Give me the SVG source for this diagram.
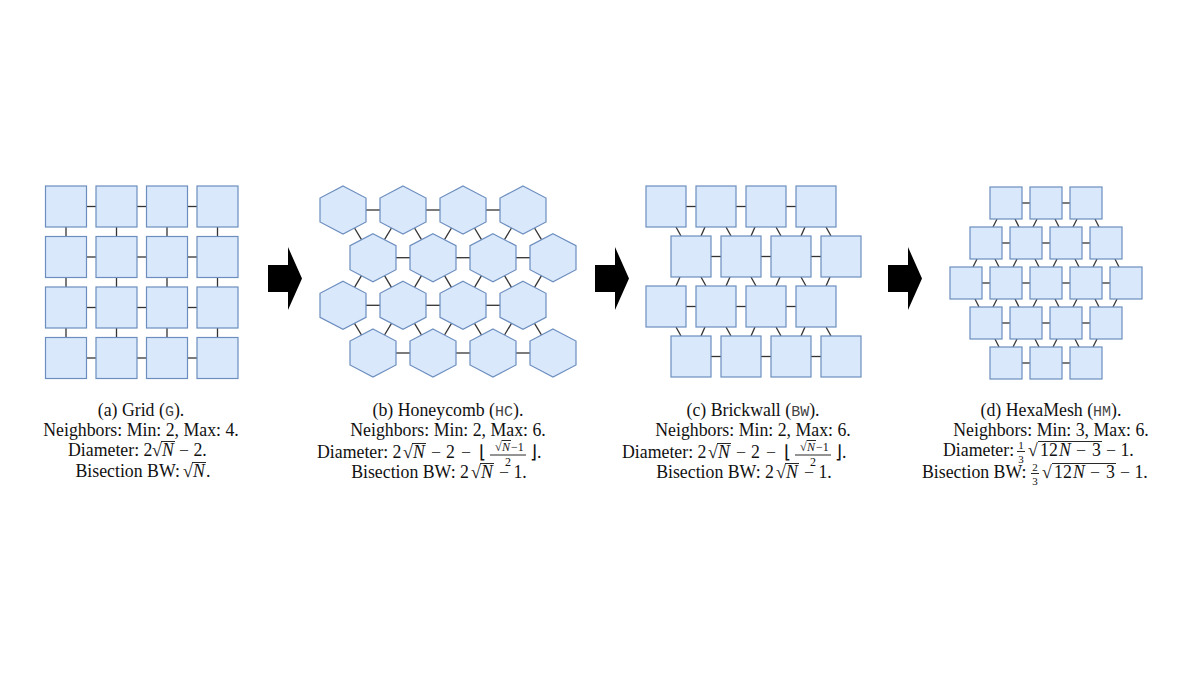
<svg xmlns="http://www.w3.org/2000/svg" xmlns:xlink="http://www.w3.org/1999/xlink" width="1200" height="675" viewBox="0 0 1200 675">
<style>
.n{fill:#dae8fc;stroke:#6c8ebf;stroke-width:1.2}
.c line{stroke:#333;stroke-width:1.3}
.t{font-family:"Liberation Serif",serif;font-size:17.8px;fill:#111}
.m{font-family:"Liberation Mono",monospace;font-size:15px;fill:#444}
.i{font-style:italic}
.s{font-size:12px}
.xs{font-size:11px}
.bar{stroke:#111;stroke-width:0.9}
.arr{fill:#000}
</style>
<defs>
<polygon id="hex" class="n" points="0,-24 23,-12 23,12 0,24 -23,12 -23,-12"/>
<rect id="sq" class="n" width="41" height="41"/>
<rect id="bq" class="n" width="40" height="41"/>
<rect id="hq" class="n" width="32" height="32"/>
</defs>
<rect width="1200" height="675" fill="#fff"/>

<!-- Grid -->
<g id="grid-connectors" class="c">
<line x1="86.5" y1="206.5" x2="96" y2="206.5"/><line x1="137" y1="206.5" x2="146.5" y2="206.5"/><line x1="187.5" y1="206.5" x2="197" y2="206.5"/>
<line x1="86.5" y1="257" x2="96" y2="257"/><line x1="137" y1="257" x2="146.5" y2="257"/><line x1="187.5" y1="257" x2="197" y2="257"/>
<line x1="86.5" y1="307.5" x2="96" y2="307.5"/><line x1="137" y1="307.5" x2="146.5" y2="307.5"/><line x1="187.5" y1="307.5" x2="197" y2="307.5"/>
<line x1="86.5" y1="358" x2="96" y2="358"/><line x1="137" y1="358" x2="146.5" y2="358"/><line x1="187.5" y1="358" x2="197" y2="358"/>
<line x1="66" y1="227" x2="66" y2="236.5"/><line x1="116.5" y1="227" x2="116.5" y2="236.5"/><line x1="167" y1="227" x2="167" y2="236.5"/><line x1="217.5" y1="227" x2="217.5" y2="236.5"/>
<line x1="66" y1="277.5" x2="66" y2="287"/><line x1="116.5" y1="277.5" x2="116.5" y2="287"/><line x1="167" y1="277.5" x2="167" y2="287"/><line x1="217.5" y1="277.5" x2="217.5" y2="287"/>
<line x1="66" y1="328" x2="66" y2="337.5"/><line x1="116.5" y1="328" x2="116.5" y2="337.5"/><line x1="167" y1="328" x2="167" y2="337.5"/><line x1="217.5" y1="328" x2="217.5" y2="337.5"/>
</g>
<g id="grid-nodes">
<use href="#sq" x="45.5" y="186"/><use href="#sq" x="96" y="186"/><use href="#sq" x="146.5" y="186"/><use href="#sq" x="197" y="186"/>
<use href="#sq" x="45.5" y="236.5"/><use href="#sq" x="96" y="236.5"/><use href="#sq" x="146.5" y="236.5"/><use href="#sq" x="197" y="236.5"/>
<use href="#sq" x="45.5" y="287"/><use href="#sq" x="96" y="287"/><use href="#sq" x="146.5" y="287"/><use href="#sq" x="197" y="287"/>
<use href="#sq" x="45.5" y="337.5"/><use href="#sq" x="96" y="337.5"/><use href="#sq" x="146.5" y="337.5"/><use href="#sq" x="197" y="337.5"/>
</g>

<polygon class="arr" points="268,265 288,265 288,247 302,278.5 288,310 288,292 268,292"/>
<polygon class="arr" points="595,265 615,265 615,247 629,278.5 615,310 615,292 595,292"/>
<polygon class="arr" points="888,265 908,265 908,247 922,278.5 908,310 908,292 888,292"/>

<!-- Honeycomb -->
<g id="honeycomb-connectors" class="c">
<line x1="366" y1="210" x2="380" y2="210"/><line x1="426" y1="210" x2="440" y2="210"/><line x1="486" y1="210" x2="500" y2="210"/>
<line x1="396" y1="257.7" x2="410" y2="257.7"/><line x1="456" y1="257.7" x2="470" y2="257.7"/><line x1="516" y1="257.7" x2="530" y2="257.7"/>
<line x1="366" y1="305.3" x2="380" y2="305.3"/><line x1="426" y1="305.3" x2="440" y2="305.3"/><line x1="486" y1="305.3" x2="500" y2="305.3"/>
<line x1="396" y1="353" x2="410" y2="353"/><line x1="456" y1="353" x2="470" y2="353"/><line x1="516" y1="353" x2="530" y2="353"/>
<line x1="354.5" y1="228" x2="361.5" y2="239.7"/><line x1="391.5" y1="228" x2="384.5" y2="239.7"/><line x1="414.5" y1="228" x2="421.5" y2="239.7"/><line x1="451.5" y1="228" x2="444.5" y2="239.7"/><line x1="474.5" y1="228" x2="481.5" y2="239.7"/><line x1="511.5" y1="228" x2="504.5" y2="239.7"/><line x1="534.5" y1="228" x2="541.5" y2="239.7"/>
<line x1="361.5" y1="275.7" x2="354.5" y2="287.3"/><line x1="384.5" y1="275.7" x2="391.5" y2="287.3"/><line x1="421.5" y1="275.7" x2="414.5" y2="287.3"/><line x1="444.5" y1="275.7" x2="451.5" y2="287.3"/><line x1="481.5" y1="275.7" x2="474.5" y2="287.3"/><line x1="504.5" y1="275.7" x2="511.5" y2="287.3"/><line x1="541.5" y1="275.7" x2="534.5" y2="287.3"/>
<line x1="354.5" y1="323.3" x2="361.5" y2="335"/><line x1="391.5" y1="323.3" x2="384.5" y2="335"/><line x1="414.5" y1="323.3" x2="421.5" y2="335"/><line x1="451.5" y1="323.3" x2="444.5" y2="335"/><line x1="474.5" y1="323.3" x2="481.5" y2="335"/><line x1="511.5" y1="323.3" x2="504.5" y2="335"/><line x1="534.5" y1="323.3" x2="541.5" y2="335"/>
</g>
<g id="honeycomb-nodes">
<use href="#hex" x="343" y="210"/><use href="#hex" x="403" y="210"/><use href="#hex" x="463" y="210"/><use href="#hex" x="523" y="210"/>
<use href="#hex" x="373" y="257.7"/><use href="#hex" x="433" y="257.7"/><use href="#hex" x="493" y="257.7"/><use href="#hex" x="553" y="257.7"/>
<use href="#hex" x="343" y="305.3"/><use href="#hex" x="403" y="305.3"/><use href="#hex" x="463" y="305.3"/><use href="#hex" x="523" y="305.3"/>
<use href="#hex" x="373" y="353"/><use href="#hex" x="433" y="353"/><use href="#hex" x="493" y="353"/><use href="#hex" x="553" y="353"/>
</g>

<!-- Brickwall -->
<g id="brickwall-connectors" class="c">
<line x1="686" y1="206.5" x2="696" y2="206.5"/><line x1="736" y1="206.5" x2="746" y2="206.5"/><line x1="786" y1="206.5" x2="796" y2="206.5"/>
<line x1="711" y1="256.5" x2="721" y2="256.5"/><line x1="761" y1="256.5" x2="771" y2="256.5"/><line x1="811" y1="256.5" x2="821" y2="256.5"/>
<line x1="686" y1="306.5" x2="696" y2="306.5"/><line x1="736" y1="306.5" x2="746" y2="306.5"/><line x1="786" y1="306.5" x2="796" y2="306.5"/>
<line x1="711" y1="356.5" x2="721" y2="356.5"/><line x1="761" y1="356.5" x2="771" y2="356.5"/><line x1="811" y1="356.5" x2="821" y2="356.5"/>
<line x1="676" y1="227" x2="681" y2="236"/><line x1="705" y1="227" x2="701" y2="236"/><line x1="726" y1="227" x2="731" y2="236"/><line x1="755" y1="227" x2="751" y2="236"/><line x1="776" y1="227" x2="781" y2="236"/><line x1="805" y1="227" x2="801" y2="236"/><line x1="826" y1="227" x2="831" y2="236"/>
<line x1="680" y1="277" x2="676" y2="286"/><line x1="701" y1="277" x2="706" y2="286"/><line x1="730" y1="277" x2="726" y2="286"/><line x1="751" y1="277" x2="756" y2="286"/><line x1="780" y1="277" x2="776" y2="286"/><line x1="801" y1="277" x2="806" y2="286"/><line x1="830" y1="277" x2="826" y2="286"/>
<line x1="676" y1="327" x2="681" y2="336"/><line x1="705" y1="327" x2="701" y2="336"/><line x1="726" y1="327" x2="731" y2="336"/><line x1="755" y1="327" x2="751" y2="336"/><line x1="776" y1="327" x2="781" y2="336"/><line x1="805" y1="327" x2="801" y2="336"/><line x1="826" y1="327" x2="831" y2="336"/>
</g>
<g id="brickwall-nodes">
<use href="#bq" x="646" y="186"/><use href="#bq" x="696" y="186"/><use href="#bq" x="746" y="186"/><use href="#bq" x="796" y="186"/>
<use href="#bq" x="671" y="236"/><use href="#bq" x="721" y="236"/><use href="#bq" x="771" y="236"/><use href="#bq" x="821" y="236"/>
<use href="#bq" x="646" y="286"/><use href="#bq" x="696" y="286"/><use href="#bq" x="746" y="286"/><use href="#bq" x="796" y="286"/>
<use href="#bq" x="671" y="336"/><use href="#bq" x="721" y="336"/><use href="#bq" x="771" y="336"/><use href="#bq" x="821" y="336"/>
</g>

<!-- HexaMesh -->
<g id="hexamesh-connectors" class="c">
<line x1="1022" y1="203" x2="1030" y2="203"/><line x1="1062" y1="203" x2="1070" y2="203"/>
<line x1="1002" y1="243" x2="1010" y2="243"/><line x1="1042" y1="243" x2="1050" y2="243"/><line x1="1082" y1="243" x2="1090" y2="243"/>
<line x1="982" y1="283" x2="990" y2="283"/><line x1="1022" y1="283" x2="1030" y2="283"/><line x1="1062" y1="283" x2="1070" y2="283"/><line x1="1102" y1="283" x2="1110" y2="283"/>
<line x1="1002" y1="323" x2="1010" y2="323"/><line x1="1042" y1="323" x2="1050" y2="323"/><line x1="1082" y1="323" x2="1090" y2="323"/>
<line x1="1022" y1="363" x2="1030" y2="363"/><line x1="1062" y1="363" x2="1070" y2="363"/>
<line x1="997" y1="219" x2="993" y2="227"/><line x1="1015" y1="219" x2="1019" y2="227"/><line x1="1037" y1="219" x2="1033" y2="227"/><line x1="1055" y1="219" x2="1059" y2="227"/><line x1="1077" y1="219" x2="1073" y2="227"/><line x1="1095" y1="219" x2="1099" y2="227"/>
<line x1="977" y1="259" x2="973" y2="267"/><line x1="995" y1="259" x2="999" y2="267"/><line x1="1017" y1="259" x2="1013" y2="267"/><line x1="1035" y1="259" x2="1039" y2="267"/><line x1="1057" y1="259" x2="1053" y2="267"/><line x1="1075" y1="259" x2="1079" y2="267"/><line x1="1097" y1="259" x2="1093" y2="267"/><line x1="1115" y1="259" x2="1119" y2="267"/>
<line x1="975" y1="299" x2="979" y2="307"/><line x1="997" y1="299" x2="993" y2="307"/><line x1="1015" y1="299" x2="1019" y2="307"/><line x1="1037" y1="299" x2="1033" y2="307"/><line x1="1055" y1="299" x2="1059" y2="307"/><line x1="1077" y1="299" x2="1073" y2="307"/><line x1="1095" y1="299" x2="1099" y2="307"/><line x1="1117" y1="299" x2="1113" y2="307"/>
<line x1="995" y1="339" x2="999" y2="347"/><line x1="1017" y1="339" x2="1013" y2="347"/><line x1="1035" y1="339" x2="1039" y2="347"/><line x1="1057" y1="339" x2="1053" y2="347"/><line x1="1075" y1="339" x2="1079" y2="347"/><line x1="1097" y1="339" x2="1093" y2="347"/>
</g>
<g id="hexamesh-nodes">
<use href="#hq" x="990" y="187"/><use href="#hq" x="1030" y="187"/><use href="#hq" x="1070" y="187"/>
<use href="#hq" x="970" y="227"/><use href="#hq" x="1010" y="227"/><use href="#hq" x="1050" y="227"/><use href="#hq" x="1090" y="227"/>
<use href="#hq" x="950" y="267"/><use href="#hq" x="990" y="267"/><use href="#hq" x="1030" y="267"/><use href="#hq" x="1070" y="267"/><use href="#hq" x="1110" y="267"/>
<use href="#hq" x="970" y="307"/><use href="#hq" x="1010" y="307"/><use href="#hq" x="1050" y="307"/><use href="#hq" x="1090" y="307"/>
<use href="#hq" x="990" y="347"/><use href="#hq" x="1030" y="347"/><use href="#hq" x="1070" y="347"/>
</g>

<!-- Captions -->
<g id="caption-a" class="t">
<text x="141" y="416" text-anchor="middle">(a) Grid (<tspan class="m">G</tspan>).</text>
<text x="141" y="436" text-anchor="middle">Neighbors: Min: 2, Max: 4.</text>
<text x="68" y="456">Diameter: 2</text><text x="152" y="456">√</text><text x="162" y="456" class="i">N</text><text x="179" y="456">− 2.</text>
<line class="bar" x1="161" y1="441.5" x2="175" y2="441.5"/>
<text x="180" y="477" text-anchor="end">Bisection BW:</text><text x="183" y="477">√</text><text x="193" y="477" class="i">N</text><text x="206" y="477">.</text>
<line class="bar" x1="192" y1="462.5" x2="206" y2="462.5"/>
</g>
<g id="caption-b" class="t">
<text x="448" y="416" text-anchor="middle">(b) Honeycomb (<tspan class="m">HC</tspan>).</text>
<text x="448" y="436" text-anchor="middle">Neighbors: Min: 2, Max: 6.</text>
<g id="math-b">
<text x="317" y="458">Diameter: 2</text><text x="403" y="458">√</text><text x="413" y="458" class="i">N</text><text x="431" y="458">−</text><text x="446" y="458">2</text><text x="461" y="458">−</text><text x="479" y="458">⌊</text>
<line class="bar" x1="412" y1="443.5" x2="426" y2="443.5"/>
<text x="495" y="451" class="s">√</text><text x="502" y="451" class="s i">N</text><text x="511" y="451" class="s">−1</text>
<line class="bar" x1="501.5" y1="440.5" x2="511" y2="440.5"/>
<line class="bar" x1="490" y1="455" x2="526" y2="455"/>
<text x="508" y="466" text-anchor="middle" class="s">2</text>
<text x="530" y="458">⌋.</text>
<text x="469" y="478" text-anchor="end">Bisection BW: 2</text><text x="471" y="478">√</text><text x="481" y="478" class="i">N</text><text x="499" y="478">− 1.</text>
<line class="bar" x1="480" y1="463.5" x2="494" y2="463.5"/>
</g>
</g>
<g id="caption-c" class="t">
<text x="753" y="416" text-anchor="middle">(c) Brickwall (<tspan class="m">BW</tspan>).</text>
<text x="753" y="436" text-anchor="middle">Neighbors: Min: 2, Max: 6.</text>
<use href="#math-b" x="305" y="0"/>
</g>
<g id="caption-d" class="t">
<text x="1051" y="416" text-anchor="middle">(d) HexaMesh (<tspan class="m">HM</tspan>).</text>
<text x="1051" y="436" text-anchor="middle">Neighbors: Min: 3, Max: 6.</text>
<text x="943" y="456">Diameter:</text>
<text x="1021" y="449" text-anchor="middle" class="xs">1</text>
<line class="bar" x1="1017" y1="451.5" x2="1025" y2="451.5"/>
<text x="1021" y="463" text-anchor="middle" class="xs">3</text>
<text x="1028" y="456">√</text><text x="1040" y="456">12</text><text x="1059" y="456" class="i">N</text><text x="1076" y="456">−</text><text x="1092" y="456">3</text><text x="1106" y="456">− 1.</text>
<line class="bar" x1="1038" y1="441.5" x2="1102" y2="441.5"/>
<text x="922" y="478">Bisection BW:</text>
<text x="1035" y="471" text-anchor="middle" class="xs">2</text>
<line class="bar" x1="1031" y1="473.5" x2="1039" y2="473.5"/>
<text x="1035" y="485" text-anchor="middle" class="xs">3</text>
<text x="1042" y="478">√</text><text x="1054" y="478">12</text><text x="1073" y="478" class="i">N</text><text x="1090" y="478">−</text><text x="1106" y="478">3</text><text x="1120" y="478">− 1.</text>
<line class="bar" x1="1052" y1="463.5" x2="1116" y2="463.5"/>
</g>
</svg>
